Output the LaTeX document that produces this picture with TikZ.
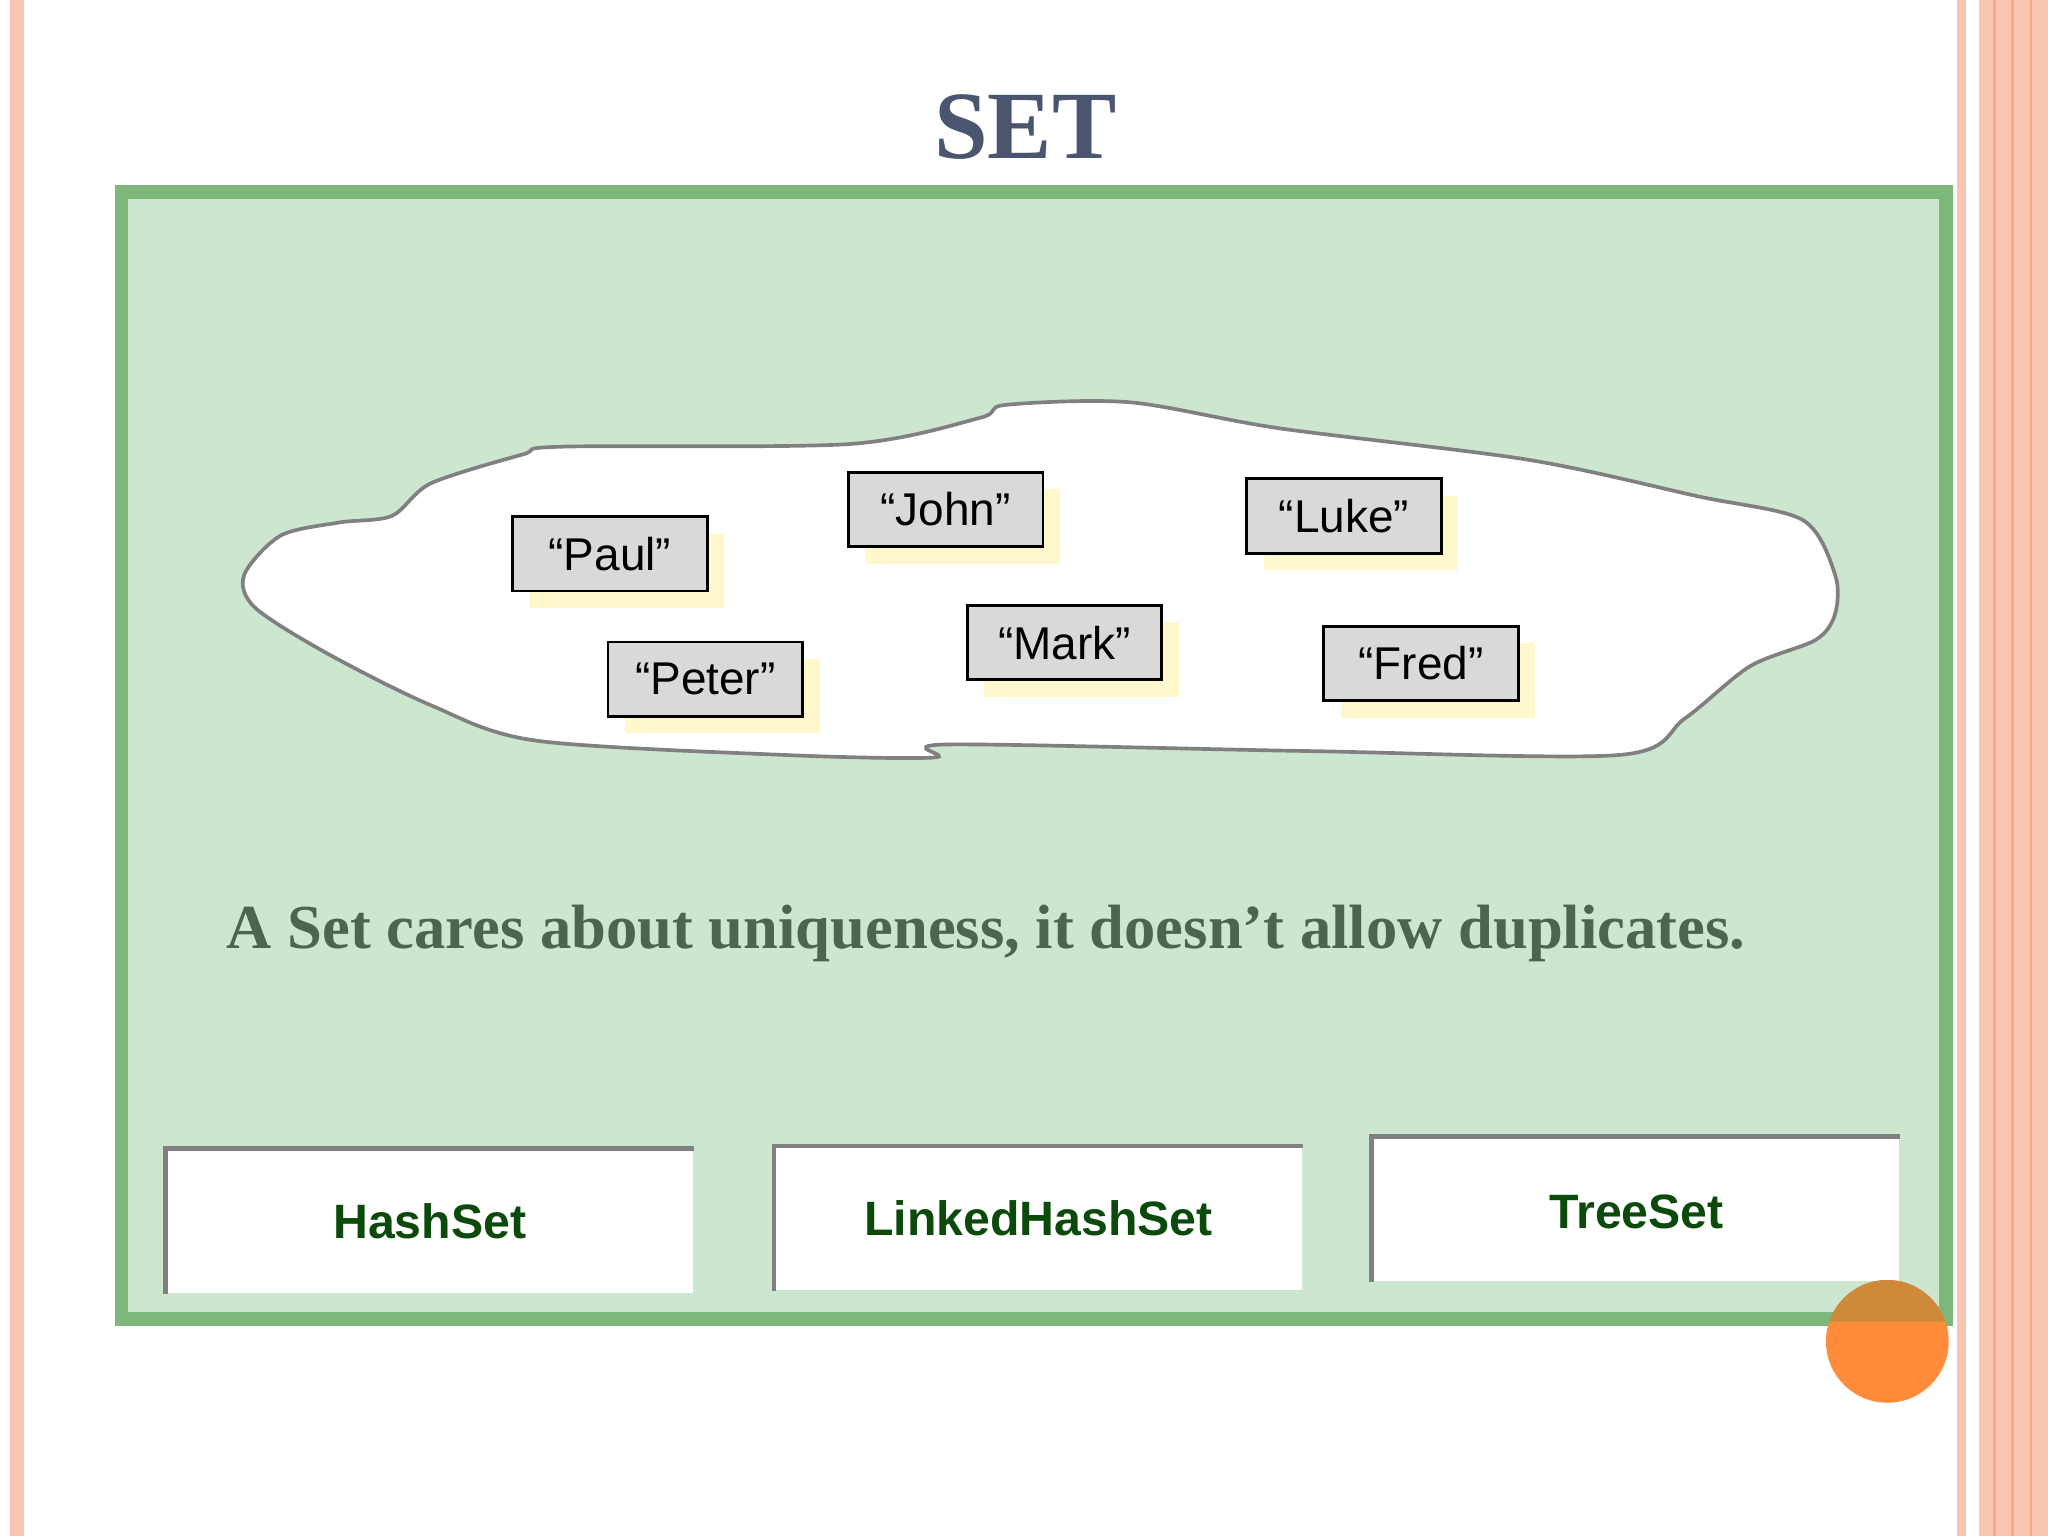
\documentclass[tikz,border=0pt]{standalone}
\usepackage{fontspec}
\setmainfont{Liberation Serif}
\setsansfont{Liberation Sans}
\definecolor{bgg}{HTML}{CDE6D0}
\definecolor{bdg}{HTML}{7DB87A}
\definecolor{ttl}{HTML}{4A5670}
\definecolor{snt}{HTML}{4D654D}
\definecolor{orng}{HTML}{FF8C3A}
\definecolor{orng2}{HTML}{CD8A3A}
\definecolor{strp}{HTML}{F9C4B0}
\definecolor{strp2}{HTML}{F4A98C}
\definecolor{shd}{HTML}{FFF8CC}
\definecolor{lbl}{HTML}{0B4A0B}
\begin{document}
\begin{tikzpicture}[x=0.01cm,y=-0.01cm,
  namebox/.style={draw=black,fill=gray!30,line width=0.6pt,minimum width=1.49cm,minimum height=0.57cm,font=\sffamily\fontsize{10}{12}\selectfont},
  shadowbox/.style={fill=shd,draw=none,minimum width=1.49cm,minimum height=0.57cm},
  implbox/.style={fill=white,minimum width=4.03cm,minimum height=1.1cm,font=\sffamily\bfseries\fontsize{10.5}{12}\selectfont,text=lbl}]
\useasboundingbox (0,0) rectangle (1568,1176);
\fill[white] (0,0) rectangle (1568,1176);
\fill[strp] (8,0) rectangle (18,1176);
\fill[strp] (1498,0) rectangle (1505,1176);
\fill[strp] (1515,0) rectangle (1568,1176);
\foreach \xx in {1527,1541,1555} \draw[strp2,line width=0.6pt] (\xx,0) -- (\xx,1176);
\node[font=\bfseries\fontsize{21}{24}\selectfont,text=ttl] (title) at (785,97) {SET};
\fill[bgg] (93,147) rectangle (1490,1010);
% cloud
\draw[fill=white,draw=gray,line width=0.8pt] plot[smooth cycle,tension=0.5] coordinates {(187,440) (215,410) (260,400) (300,395) (330,370) (400,348) (430,342) (650,340) (750,320) (770,310) (865,308) (980,328) (1170,352) (1300,380) (1380,398) (1405,440) (1405,470) (1390,490) (1340,510) (1290,550) (1240,578) (1000,575) (725,570) (715,580) (600,578) (410,567) (330,540) (250,500) (195,465)};
\foreach \n/\t/\xx/\yy in {paul/Paul/467/424, john/John/724/390, luke/Luke/1029/395, peter/Peter/540/520, mark/Mark/815/492, fred/Fred/1088/508}{
  \node[shadowbox] (\n s) at (\xx+13,\yy+13) {};
  \node[namebox] (\n) at (\xx,\yy) {“\t”};
}
\node[text=snt,font=\bfseries] (sent) at (755,715) {\resizebox{11.62cm}{!}{A Set cares about uniqueness, it doesn’t allow duplicates.}};
\node[implbox] (hash) at (329,935) {HashSet};
\node[implbox] (linked) at (795,933) {LinkedHashSet};
\node[implbox,anchor=north west,inner sep=0pt] (tree) at (1050,870) {};
\node[font=\sffamily\bfseries\fontsize{10.5}{12}\selectfont,text=lbl] (treel) at (1253,928) {TreeSet};
\foreach \b in {hash,linked,tree} \draw[gray,line width=1pt] (\b.south west) -- (\b.north west) -- (\b.north east);
\draw[bdg,line width=3pt] (93,147) rectangle (1490,1010);
\fill[orng] (1445,1027) circle (47);
\begin{scope}
\clip (1390,970) rectangle (1500,1012);
\fill[orng2] (1445,1027) circle (47);
\end{scope}
\end{tikzpicture}
\end{document}
